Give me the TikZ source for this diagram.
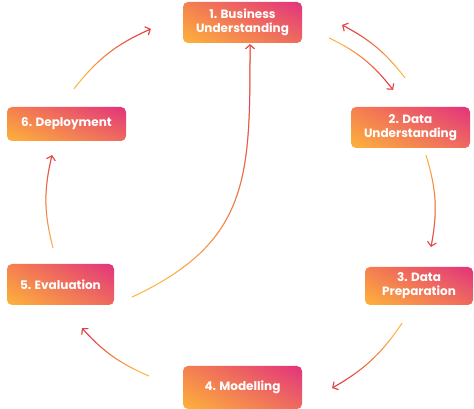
\documentclass[tikz,border=0pt]{standalone}
\usepackage{fontspec}
\setmainfont{Poppins}
\usepackage{tikz}
\usetikzlibrary{arrows.meta,calc,fadings,shadings}
\definecolor{cycorange}{HTML}{FDB33B}
\definecolor{cycpink}{HTML}{E2337D}
\definecolor{cycwarm}{HTML}{F5804F}
\definecolor{cyccoral}{HTML}{EE6A5F}
\definecolor{cycred}{HTML}{E0405F}
\tikzfading[name=tohead, left color=transparent!100, middle color=transparent!15, right color=transparent!0]
% orange tail, pink head
\newcommand{\gradflow}[4]{%
  \draw[flow, draw=cycorange] #1 #2 #3;
  \draw[flow, draw=cycred, path fading=tohead, fading angle=#4] #1 #2 #3;}

\begin{document}
\begin{tikzpicture}[
  x=1pt, y=1pt,
  font=\fontsize{12}{14}\selectfont\bfseries,
  phase/.style={rounded corners=5pt, shade, text=white, align=center, inner sep=0pt,
                lower left=cycorange, upper right=cycpink, upper left=cycwarm, lower right=cyccoral},
  >={Straight Barb[length=4pt,width=9pt]},
  flow/.style={->, line width=1pt, line cap=round},
]
\path[use as bounding box, fill=white] (0,0) rectangle (474,409);
% ----- phases -----
\node[phase, minimum width=119pt, minimum height=41pt] (bizund) at (242.5,386.5) {1. Business\\Understanding};
\node[phase, minimum width=119pt, minimum height=41pt] (dataund) at (410.5,281.5) {2. Data\\Understanding};
\node[phase, minimum width=108pt, minimum height=38pt] (dataprep) at (419,123) {3. Data\\Preparation};
\node[phase, minimum width=119pt, minimum height=43pt] (modelling) at (242.5,21.5) {4. Modelling};
\node[phase, minimum width=107pt, minimum height=41pt] (evaluation) at (60.5,124.5) {5. Evaluation};
\node[phase, minimum width=119pt, minimum height=34pt] (deployment) at (66.5,285) {6. Deployment};
% ----- cycle -----
\gradflow{([shift={(27,-15.5)}]bizund.east)}{to[bend left=13]}{([shift={(-17.5,17)}]dataund.north)}{-39}
\gradflow{([shift={(-5.5,29)}]dataund.north)}{to[bend right=12]}{([shift={(40,-2.5)}]bizund.east)}{140}
\gradflow{([shift={(15.5,-7)}]dataund.south)}{to[bend left=14]}{([shift={(12,20)}]dataprep.north)}{-87}
\gradflow{([shift={(-17,-18)}]dataprep.south)}{to[bend left=13]}{([shift={(30,-0.5)}]modelling.east)}{-137}
\gradflow{([shift={(-34,11.5)}]modelling.west)}{to[bend left=12]}{([shift={(21.5,-23)}]evaluation.south)}{144}
\gradflow{([shift={(-7.5,16)}]evaluation.north)}{to[bend left=14]}{([shift={(-14.5,-14)}]deployment.south)}{90}
\gradflow{([shift={(7.5,18)}]deployment.north)}{to[bend left=14]}{([shift={(-32,-6.5)}]bizund.west)}{38}
% ----- back to the start -----
\gradflow{([shift={(18,-12.5)}]evaluation.east)}{to[out=25, in=-90, looseness=1.2]}{([shift={(7.5,-1)}]bizund.south)}{65}
\end{tikzpicture}
\end{document}
